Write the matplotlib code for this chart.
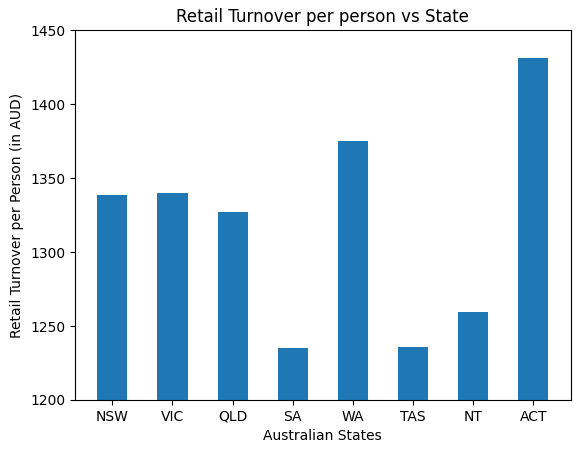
import matplotlib
matplotlib.use("Agg")
import matplotlib.pyplot as plt

states = ["NSW", "VIC", "QLD", "SA", "WA", "TAS", "NT", "ACT"]
turnover = [1338.7, 1340.1, 1327.2, 1235.3, 1375.2, 1236.0, 1259.7, 1431.3]

fig, ax = plt.subplots(figsize=(5.8, 4.53), dpi=100)
fig.subplots_adjust(left=0.129, right=0.984, bottom=0.117, top=0.933)
ax.bar(states, turnover, width=0.5, color="#1f77b4")
ax.set_ylim(1200, 1450)
ax.set_title("Retail Turnover per person vs State")
ax.set_xlabel("Australian States")
ax.set_ylabel("Retail Turnover per Person (in AUD)")
plt.savefig("out.png")
